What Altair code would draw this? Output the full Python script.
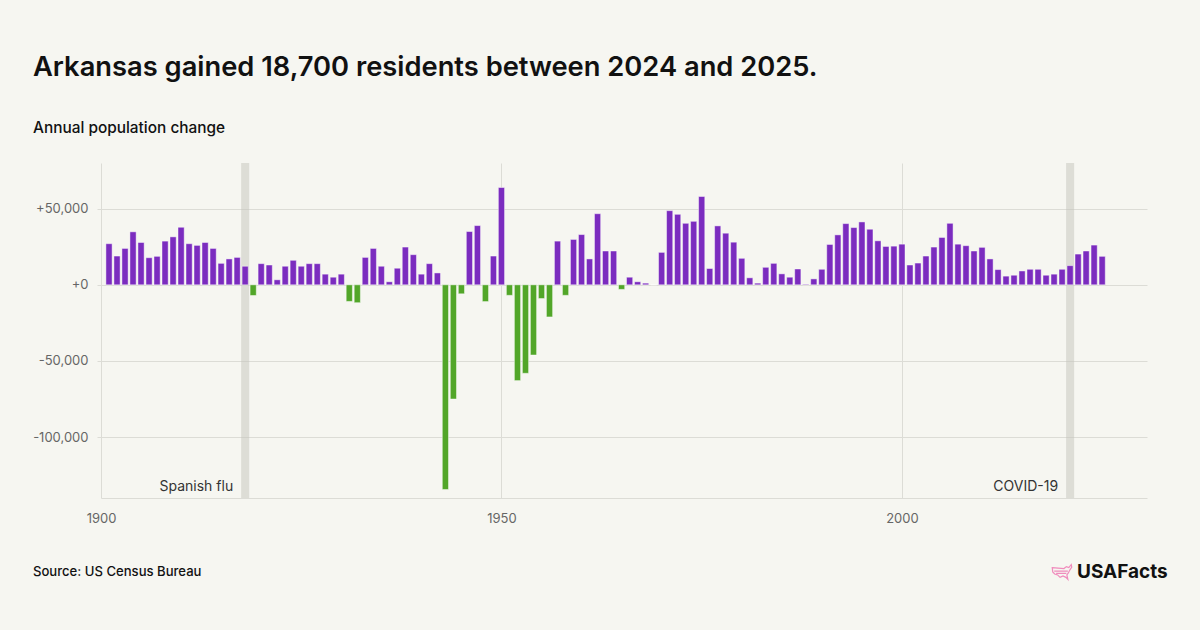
import altair as alt
import pandas as pd

years = list(range(1901, 2026))
change = [
    27000, 18900, 23900, 34800, 27800, 17800, 18700, 28700, 31500, 37800,
    27000, 25900, 27800, 23900, 14100, 17000, 18000, 12200, -7000, 13900,
    13000, 3300, 12200, 16100, 12200, 13900, 13900, 7000, 5000, 7000,
    -10900, -11700, 18000, 23900, 12200, 2000, 10900, 24800, 19800, 7000,
    13900, 7800, -134400, -75000, -5900, 35000, 38900, -11000, 18900, 63900,
    -6900, -62900, -58100, -46100, -9000, -21100, 28700, -6900, 29800, 33000,
    17000, 46700, 22200, 22200, -3000, 5000, 2000, 1100, 0, 21300,
    48700, 46300, 40400, 41700, 58000, 10700, 38700, 33900, 28000, 17400,
    4600, 1100, 11500, 14100, 7200, 5000, 10400, 400, 3900, 10200,
    26500, 32800, 40200, 37600, 41300, 36500, 28900, 25200, 25400, 26700,
    13000, 14300, 18900, 24800, 31100, 40400, 26700, 25700, 22200, 24600,
    17000, 10000, 5700, 6300, 9100, 10200, 10200, 6300, 7000, 10200,
    12600, 20200, 22200, 26100, 18700,
]
event_years = [1918, 2021]
event_labels = ["Spanish flu", "COVID-19"]
y_ticks = [-100000, -50000, 0, 50000]
x_ticks = [1900, 1950, 2000]

title_text = "Arkansas gained 18,700 residents between 2024 and 2025."
subtitle_text = "Annual population change"
source_text = "Source: US Census Bureau"
brand_text = "USAFacts"

BG = "#f6f6f1"
GRID = "#dcdcd6"
PURPLE = "#7b2cbf"
GREEN = "#52a629"
FONT = "Inter"

df = pd.DataFrame({"year": years, "change": change})
df["sign"] = ["neg" if v < 0 else "pos" for v in change]
ev = pd.DataFrame({"year": event_years, "label": event_labels})

xscale = alt.Scale(domain=[1900, 2030.6], nice=False, zero=False, padding=0)
yscale = alt.Scale(domain=[-140000, 80000], nice=False, padding=0)

bars = alt.Chart(df).mark_bar(size=6.2, stroke="white", strokeOpacity=0.45, strokeWidth=1).encode(
    x=alt.X("year:Q", scale=xscale,
            axis=alt.Axis(values=x_ticks, format="d", title=None, grid=True, gridColor=GRID,
                          domain=True, domainColor=GRID, ticks=False, labelPadding=14,
                          labelFlush=False,
                          labelFontSize=13, labelColor="#666", labelFont=FONT)),
    y=alt.Y("change:Q", scale=yscale,
            axis=alt.Axis(values=y_ticks, title=None, grid=True, gridColor=GRID,
                          labelExpr="(datum.value >= 0 ? '+' : '-') + format(abs(datum.value), ',')",
                          domain=False, ticks=True, tickSize=4, tickColor=GRID, labelPadding=9,
                          labelFontSize=13, labelColor="#666", labelFont=FONT)),
    color=alt.Color("sign:N", scale=alt.Scale(domain=["pos", "neg"], range=[PURPLE, GREEN]), legend=None),
)

bands = alt.Chart(ev).transform_calculate(
    x0="datum.year - 0.5", x1="datum.year + 0.5"
).mark_rect(color="#c4c4bb", opacity=0.5).encode(
    x=alt.X("x0:Q", scale=xscale),
    x2="x1:Q",
    y=alt.value(0),
    y2=alt.value(335),
)

band_labels = alt.Chart(ev).transform_calculate(
    x0="datum.year - 0.5"
).mark_text(align="right", baseline="alphabetic", dx=-8, fontSize=14, color="#333", font=FONT).encode(
    x=alt.X("x0:Q", scale=xscale),
    y=alt.value(328),
    text="label:N",
)

def label(text, x, y, size, weight, color="#111", align="left"):
    return alt.Chart(pd.DataFrame({"t": [text]})).mark_text(
        align=align, baseline="alphabetic", fontSize=size, fontWeight=weight, color=color, font=FONT
    ).encode(x=alt.value(x), y=alt.value(y), text="t:N")

title = label(title_text, -68, -87, 27.3, 600)
subtitle = label(subtitle_text, -68, -30, 15.4, 500)
source = label(source_text, -68, 413, 13.1, 500)
brand = label(brand_text, 976, 415, 19, 700)

us_path = ("M -1 -0.45 L -0.4 -0.4 L 0.2 -0.35 L 0.45 -0.55 L 0.7 -0.45 L 0.95 -0.75 L 1 -0.5 "
           "L 0.8 -0.2 L 0.65 0.1 L 0.5 0.3 L 0.6 0.75 L 0.4 0.55 L 0.1 0.4 L -0.2 0.55 "
           "L -0.45 0.3 L -0.75 0.2 L -0.95 0 Z M -0.8 -0.1 L 0.6 -0.1 M -0.6 0.15 L 0.45 0.15")
logo = alt.Chart(pd.DataFrame({"t": [brand_text]})).mark_point(
    shape=us_path, filled=False, stroke="#ee5fa7", strokeWidth=1.2, size=380
).encode(x=alt.value(961), y=alt.value(409))

chart = alt.layer(bands, bars, band_labels, title, subtitle, source, brand, logo).properties(
    width=1046, height=335,
    background=BG,
    padding={"left": 101, "top": 163, "right": 53, "bottom": 132},
    autosize=alt.AutoSizeParams(type="none"),
).configure_view(stroke=None)

chart.save("out.html", embed_options={"renderer": "svg", "actions": False})
